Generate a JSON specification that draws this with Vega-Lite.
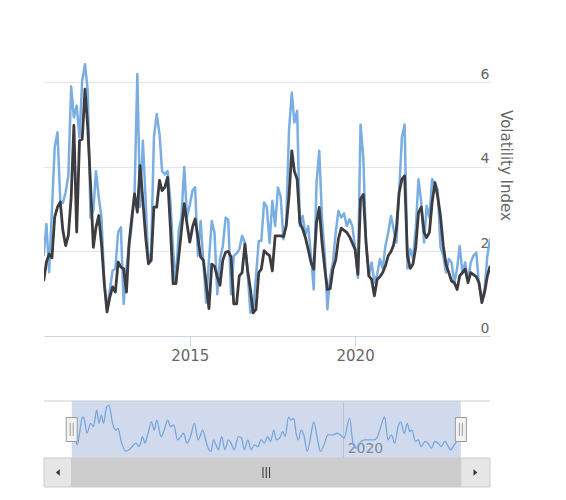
{
  "$schema": "https://vega.github.io/schema/vega-lite/v6.json",
  "background": "white",
  "padding": {"left": 43, "top": 57, "right": 30, "bottom": 0},
  "config": {"view": {"stroke": null}, "font": "DejaVu Sans"},
  "bounds": "flush",
  "spacing": 65,
  "datasets": {
    "monthly": [
      {"date":"2010-08-01","index":1.9,"average":1.3},
      {"date":"2010-09-01","index":2.65,"average":1.75},
      {"date":"2010-10-01","index":1.51,"average":1.94},
      {"date":"2010-11-01","index":3.0,"average":1.85},
      {"date":"2010-12-01","index":4.46,"average":2.81},
      {"date":"2011-01-01","index":4.82,"average":3.05},
      {"date":"2011-02-01","index":3.2,"average":3.17},
      {"date":"2011-03-01","index":3.15,"average":2.5},
      {"date":"2011-04-01","index":3.4,"average":2.14},
      {"date":"2011-05-01","index":3.8,"average":2.38},
      {"date":"2011-06-01","index":5.9,"average":3.28},
      {"date":"2011-07-01","index":5.17,"average":4.98},
      {"date":"2011-08-01","index":5.45,"average":2.46},
      {"date":"2011-09-01","index":4.7,"average":4.62},
      {"date":"2011-10-01","index":6.04,"average":4.66},
      {"date":"2011-11-01","index":6.43,"average":5.84},
      {"date":"2011-12-01","index":5.8,"average":4.94},
      {"date":"2012-01-01","index":2.8,"average":3.6},
      {"date":"2012-02-01","index":2.96,"average":2.1},
      {"date":"2012-03-01","index":3.9,"average":2.57},
      {"date":"2012-04-01","index":3.28,"average":2.85},
      {"date":"2012-05-01","index":2.81,"average":2.18},
      {"date":"2012-06-01","index":1.24,"average":1.24},
      {"date":"2012-07-01","index":0.65,"average":0.57},
      {"date":"2012-08-01","index":1.08,"average":0.92},
      {"date":"2012-09-01","index":1.55,"average":1.16},
      {"date":"2012-10-01","index":1.59,"average":1.04},
      {"date":"2012-11-01","index":2.46,"average":1.75},
      {"date":"2012-12-01","index":2.57,"average":1.63},
      {"date":"2013-01-01","index":0.76,"average":1.59},
      {"date":"2013-02-01","index":1.62,"average":1.04},
      {"date":"2013-03-01","index":2.1,"average":2.18},
      {"date":"2013-04-01","index":2.65,"average":2.8},
      {"date":"2013-05-01","index":3.36,"average":3.36},
      {"date":"2013-06-01","index":6.2,"average":2.93},
      {"date":"2013-07-01","index":3.05,"average":4.03},
      {"date":"2013-08-01","index":4.62,"average":3.2},
      {"date":"2013-09-01","index":3.2,"average":2.34},
      {"date":"2013-10-01","index":1.7,"average":1.71},
      {"date":"2013-11-01","index":2.02,"average":1.79},
      {"date":"2013-12-01","index":4.7,"average":3.05},
      {"date":"2014-01-01","index":5.25,"average":3.05},
      {"date":"2014-02-01","index":4.78,"average":3.68},
      {"date":"2014-03-01","index":3.9,"average":3.44},
      {"date":"2014-04-01","index":3.82,"average":3.52},
      {"date":"2014-05-01","index":3.9,"average":3.76},
      {"date":"2014-06-01","index":3.2,"average":2.57},
      {"date":"2014-07-01","index":2.02,"average":1.24},
      {"date":"2014-08-01","index":1.24,"average":1.24},
      {"date":"2014-09-01","index":2.5,"average":1.87},
      {"date":"2014-10-01","index":2.81,"average":2.5},
      {"date":"2014-11-01","index":4.0,"average":3.13},
      {"date":"2014-12-01","index":2.81,"average":2.66},
      {"date":"2015-01-01","index":3.1,"average":2.22},
      {"date":"2015-02-01","index":3.44,"average":2.58},
      {"date":"2015-03-01","index":3.52,"average":2.77},
      {"date":"2015-04-01","index":1.9,"average":2.33},
      {"date":"2015-05-01","index":2.72,"average":1.87},
      {"date":"2015-06-01","index":1.74,"average":1.79},
      {"date":"2015-07-01","index":0.79,"average":1.24},
      {"date":"2015-08-01","index":1.8,"average":0.65},
      {"date":"2015-09-01","index":2.72,"average":1.7},
      {"date":"2015-10-01","index":2.45,"average":1.65},
      {"date":"2015-11-01","index":0.99,"average":1.4},
      {"date":"2015-12-01","index":1.82,"average":1.2},
      {"date":"2016-01-01","index":2.13,"average":1.8},
      {"date":"2016-02-01","index":2.8,"average":1.98},
      {"date":"2016-03-01","index":2.75,"average":2.0},
      {"date":"2016-04-01","index":0.99,"average":1.87},
      {"date":"2016-05-01","index":1.9,"average":0.76},
      {"date":"2016-06-01","index":1.95,"average":0.76},
      {"date":"2016-07-01","index":2.05,"average":1.42},
      {"date":"2016-08-01","index":2.37,"average":1.5},
      {"date":"2016-09-01","index":2.2,"average":2.17},
      {"date":"2016-10-01","index":1.5,"average":1.55},
      {"date":"2016-11-01","index":0.55,"average":1.1},
      {"date":"2016-12-01","index":0.63,"average":0.55},
      {"date":"2017-01-01","index":1.4,"average":0.63},
      {"date":"2017-02-01","index":2.25,"average":1.5},
      {"date":"2017-03-01","index":2.25,"average":1.58},
      {"date":"2017-04-01","index":3.16,"average":2.02},
      {"date":"2017-05-01","index":3.05,"average":1.95},
      {"date":"2017-06-01","index":2.2,"average":1.9},
      {"date":"2017-07-01","index":3.2,"average":1.54},
      {"date":"2017-08-01","index":2.6,"average":2.37},
      {"date":"2017-09-01","index":3.51,"average":2.37},
      {"date":"2017-10-01","index":3.3,"average":2.37},
      {"date":"2017-11-01","index":2.29,"average":2.35},
      {"date":"2017-12-01","index":2.65,"average":2.6},
      {"date":"2018-01-01","index":4.86,"average":3.31},
      {"date":"2018-02-01","index":5.76,"average":4.38},
      {"date":"2018-03-01","index":5.05,"average":3.9},
      {"date":"2018-04-01","index":5.33,"average":3.71},
      {"date":"2018-05-01","index":2.6,"average":2.68},
      {"date":"2018-06-01","index":2.84,"average":2.53},
      {"date":"2018-07-01","index":2.4,"average":2.33},
      {"date":"2018-08-01","index":2.6,"average":2.05},
      {"date":"2018-09-01","index":1.9,"average":1.74},
      {"date":"2018-10-01","index":1.1,"average":1.58},
      {"date":"2018-11-01","index":3.63,"average":2.68},
      {"date":"2018-12-01","index":4.38,"average":3.04},
      {"date":"2019-01-01","index":2.76,"average":2.2},
      {"date":"2019-02-01","index":1.9,"average":1.58},
      {"date":"2019-03-01","index":0.63,"average":1.1},
      {"date":"2019-04-01","index":1.42,"average":1.12},
      {"date":"2019-05-01","index":1.74,"average":1.58},
      {"date":"2019-06-01","index":2.45,"average":1.8},
      {"date":"2019-07-01","index":2.96,"average":2.3},
      {"date":"2019-08-01","index":2.8,"average":2.55},
      {"date":"2019-09-01","index":2.9,"average":2.5},
      {"date":"2019-10-01","index":2.6,"average":2.45},
      {"date":"2019-11-01","index":2.76,"average":2.35},
      {"date":"2019-12-01","index":2.6,"average":2.2},
      {"date":"2020-01-01","index":2.1,"average":2.05},
      {"date":"2020-02-01","index":1.38,"average":1.46},
      {"date":"2020-03-01","index":5.0,"average":3.24},
      {"date":"2020-04-01","index":4.2,"average":3.35},
      {"date":"2020-05-01","index":2.2,"average":2.21},
      {"date":"2020-06-01","index":1.42,"average":1.42},
      {"date":"2020-07-01","index":1.74,"average":1.34},
      {"date":"2020-08-01","index":1.26,"average":0.95},
      {"date":"2020-09-01","index":1.46,"average":1.34},
      {"date":"2020-10-01","index":1.82,"average":1.4},
      {"date":"2020-11-01","index":1.6,"average":1.5},
      {"date":"2020-12-01","index":2.13,"average":1.66},
      {"date":"2021-01-01","index":2.45,"average":1.9},
      {"date":"2021-02-01","index":2.84,"average":2.0},
      {"date":"2021-03-01","index":2.53,"average":2.15},
      {"date":"2021-04-01","index":2.21,"average":2.53},
      {"date":"2021-05-01","index":3.4,"average":3.39},
      {"date":"2021-06-01","index":4.7,"average":3.71},
      {"date":"2021-07-01","index":5.0,"average":3.79},
      {"date":"2021-08-01","index":1.6,"average":1.9},
      {"date":"2021-09-01","index":2.05,"average":1.6},
      {"date":"2021-10-01","index":1.85,"average":1.7},
      {"date":"2021-11-01","index":2.53,"average":2.1},
      {"date":"2021-12-01","index":3.71,"average":2.92},
      {"date":"2022-01-01","index":3.16,"average":3.05},
      {"date":"2022-02-01","index":2.21,"average":2.45},
      {"date":"2022-03-01","index":3.08,"average":2.33},
      {"date":"2022-04-01","index":2.8,"average":2.45},
      {"date":"2022-05-01","index":3.71,"average":3.16},
      {"date":"2022-06-01","index":3.6,"average":3.63},
      {"date":"2022-07-01","index":3.47,"average":3.3},
      {"date":"2022-08-01","index":2.1,"average":2.84},
      {"date":"2022-09-01","index":1.9,"average":2.13},
      {"date":"2022-10-01","index":1.5,"average":1.7},
      {"date":"2022-11-01","index":1.82,"average":1.5},
      {"date":"2022-12-01","index":1.74,"average":1.3},
      {"date":"2023-01-01","index":1.26,"average":1.26},
      {"date":"2023-02-01","index":1.6,"average":1.1},
      {"date":"2023-03-01","index":2.13,"average":1.42},
      {"date":"2023-04-01","index":1.5,"average":1.5},
      {"date":"2023-05-01","index":1.74,"average":1.58},
      {"date":"2023-06-01","index":1.3,"average":1.26},
      {"date":"2023-07-01","index":1.74,"average":1.5},
      {"date":"2023-08-01","index":1.9,"average":1.45},
      {"date":"2023-09-01","index":1.97,"average":1.4},
      {"date":"2023-10-01","index":1.2,"average":1.26},
      {"date":"2023-11-01","index":0.87,"average":0.79},
      {"date":"2023-12-01","index":1.1,"average":1.03},
      {"date":"2024-01-01","index":1.9,"average":1.42},
      {"date":"2024-02-01","index":2.3,"average":1.66}
    ],
    "navigator": [
      {"date":"2010-09-24","value":2.07},
      {"date":"2010-10-15","value":1.5},
      {"date":"2010-11-18","value":3.19},
      {"date":"2010-12-18","value":4.7},
      {"date":"2011-01-09","value":4.51},
      {"date":"2011-02-12","value":2.82},
      {"date":"2011-04-03","value":3.95},
      {"date":"2011-05-06","value":3.57},
      {"date":"2011-06-17","value":5.45},
      {"date":"2011-07-16","value":3.95},
      {"date":"2011-08-15","value":4.89},
      {"date":"2011-09-11","value":3.95},
      {"date":"2011-10-21","value":5.83},
      {"date":"2011-11-21","value":6.01},
      {"date":"2012-01-04","value":3.95},
      {"date":"2012-02-14","value":3.19},
      {"date":"2012-03-14","value":3.38},
      {"date":"2012-04-17","value":2.07},
      {"date":"2012-06-19","value":0.75},
      {"date":"2012-08-21","value":1.12},
      {"date":"2012-10-24","value":1.69},
      {"date":"2012-12-07","value":1.31},
      {"date":"2013-01-18","value":2.44},
      {"date":"2013-02-17","value":1.69},
      {"date":"2013-03-28","value":2.82},
      {"date":"2013-05-11","value":4.13},
      {"date":"2013-06-14","value":3.19},
      {"date":"2013-07-17","value":4.32},
      {"date":"2013-09-08","value":2.44},
      {"date":"2013-10-19","value":3.19},
      {"date":"2013-12-02","value":4.32},
      {"date":"2014-01-05","value":3.57},
      {"date":"2014-02-16","value":3.76},
      {"date":"2014-04-06","value":2.07},
      {"date":"2014-05-17","value":2.44},
      {"date":"2014-06-20","value":2.82},
      {"date":"2014-08-03","value":1.69},
      {"date":"2014-09-22","value":2.63},
      {"date":"2014-11-05","value":3.95},
      {"date":"2014-12-23","value":2.07},
      {"date":"2015-02-18","value":3.19},
      {"date":"2015-03-17","value":2.44},
      {"date":"2015-04-20","value":1.31},
      {"date":"2015-06-03","value":0.75},
      {"date":"2015-07-06","value":2.07},
      {"date":"2015-08-05","value":1.5},
      {"date":"2015-09-05","value":0.94},
      {"date":"2015-10-16","value":2.44},
      {"date":"2015-11-26","value":0.94},
      {"date":"2016-01-09","value":2.07},
      {"date":"2016-02-12","value":1.69},
      {"date":"2016-03-23","value":0.94},
      {"date":"2016-05-14","value":2.44},
      {"date":"2016-06-25","value":2.25},
      {"date":"2016-07-28","value":0.94},
      {"date":"2016-09-11","value":2.07},
      {"date":"2016-10-22","value":0.94},
      {"date":"2016-12-05","value":1.5},
      {"date":"2017-01-16","value":1.31},
      {"date":"2017-02-27","value":2.07},
      {"date":"2017-04-10","value":1.69},
      {"date":"2017-05-21","value":2.44},
      {"date":"2017-06-24","value":1.88},
      {"date":"2017-08-07","value":3.19},
      {"date":"2017-09-06","value":2.07},
      {"date":"2017-10-17","value":2.25},
      {"date":"2017-11-28","value":3.01},
      {"date":"2017-12-27","value":2.44},
      {"date":"2018-02-10","value":4.7},
      {"date":"2018-03-13","value":4.32},
      {"date":"2018-04-16","value":4.51},
      {"date":"2018-05-15","value":2.82},
      {"date":"2018-06-14","value":2.07},
      {"date":"2018-07-18","value":3.19},
      {"date":"2018-08-21","value":2.63},
      {"date":"2018-10-04","value":0.75},
      {"date":"2018-11-22","value":2.82},
      {"date":"2018-12-25","value":4.13},
      {"date":"2019-02-08","value":2.25},
      {"date":"2019-03-19","value":0.75},
      {"date":"2019-05-10","value":1.69},
      {"date":"2019-06-21","value":2.63},
      {"date":"2019-08-23","value":2.63},
      {"date":"2019-10-18","value":2.82},
      {"date":"2019-11-29","value":2.63},
      {"date":"2020-01-12","value":2.25},
      {"date":"2020-03-22","value":4.51},
      {"date":"2020-05-05","value":1.69},
      {"date":"2020-06-16","value":1.12},
      {"date":"2020-07-26","value":1.69},
      {"date":"2020-09-29","value":2.07},
      {"date":"2020-11-19","value":2.07},
      {"date":"2021-01-14","value":2.07},
      {"date":"2021-02-25","value":2.2},
      {"date":"2021-04-08","value":3.19},
      {"date":"2021-06-10","value":4.7},
      {"date":"2021-07-21","value":2.07},
      {"date":"2021-09-04","value":2.63},
      {"date":"2021-10-15","value":1.69},
      {"date":"2021-11-26","value":3.57},
      {"date":"2021-12-29","value":4.13},
      {"date":"2022-02-12","value":2.82},
      {"date":"2022-03-23","value":3.95},
      {"date":"2022-04-22","value":3.01},
      {"date":"2022-05-21","value":3.19},
      {"date":"2022-07-04","value":1.88},
      {"date":"2022-08-07","value":2.07},
      {"date":"2022-09-18","value":1.31},
      {"date":"2022-11-01","value":1.88},
      {"date":"2022-12-12","value":1.69},
      {"date":"2023-01-23","value":1.12},
      {"date":"2023-03-06","value":1.88},
      {"date":"2023-04-17","value":1.69},
      {"date":"2023-05-27","value":1.31},
      {"date":"2023-07-10","value":1.88},
      {"date":"2023-09-24","value":0.94},
      {"date":"2023-11-07","value":1.5},
      {"date":"2023-12-26","value":2.07}
    ]
  },
  "vconcat": [
    {
      "width": 446,
      "height": 279,
      "data": {"name": "monthly"},
      "layer": [
        {
          "mark": {"type": "line", "color": "#7aaee3", "strokeWidth": 2.5, "strokeJoin": "round", "clip": true},
          "encoding": {
            "x": {
              "field": "date", "type": "temporal",
              "scale": {"type": "utc", "domain": [{"year": 2010, "month": 8, "date": 5, "utc": true}, {"year": 2024, "month": 1, "date": 30, "utc": true}]},
              "axis": {
                "values": [{"year": 2015, "month": 1, "date": 1, "utc": true}, {"year": 2020, "month": 1, "date": 1, "utc": true}],
                "format": "%Y", "title": null, "grid": false,
                "domainColor": "#ccd6eb", "tickColor": "#ccd6eb", "tickSize": 10,
                "labelFontSize": 15, "labelColor": "#666666", "labelFont": "DejaVu Sans",
                "labelPadding": 2, "labelFlush": false
              }
            },
            "y": {
              "field": "index", "type": "quantitative",
              "scale": {"domain": [0, 6.6], "nice": false, "zero": true},
              "axis": {
                "values": [0, 2, 4, 6], "title": "Volatility Index", "orient": "right",
                "grid": true, "gridColor": "#e6e6e6", "domain": false, "ticks": false, "tickSize": 0,
                "labelAlign": "right", "labelBaseline": "alphabetic", "labelPadding": -1, "labelOffset": -4,
                "labelFontSize": 14, "labelColor": "#666666", "labelFont": "DejaVu Sans",
                "titleFont": "DejaVu Sans", "titleFontSize": 15, "titleFontWeight": "normal", "titleColor": "#666666",
                "titleAngle": 90, "titleX": 15, "titleY": 108, "titleAlign": "center", "titleBaseline": "middle"
              }
            }
          }
        },
        {
          "mark": {"type": "line", "color": "#3c3c41", "strokeWidth": 2.8, "strokeJoin": "round", "clip": true},
          "encoding": {
            "x": {"field": "date", "type": "temporal"},
            "y": {"field": "average", "type": "quantitative"}
          }
        }
      ]
    },
    {
      "vconcat": [
        {
          "width": 446,
          "height": 57,
          "layer": [
            {
              "data": {"name": "navigator"},
              "mark": {"type": "line", "color": "#7cb5ec", "strokeWidth": 1.3, "interpolate": "monotone"},
              "encoding": {
                "x": {
                  "field": "date", "type": "temporal",
                  "scale": {"type": "utc", "domain": [{"year": 2009, "month": 8, "date": 19, "utc": true}, {"year": 2025, "month": 2, "date": 2, "utc": true}]},
                  "axis": {
                    "values": [{"year": 2020, "month": 1, "date": 1, "utc": true}],
                    "format": "%Y", "title": null, "grid": true, "gridColor": "#e0e0e0",
                    "domain": false, "ticks": false, "tickSize": 0,
                    "labelAlign": "left", "labelBaseline": "alphabetic", "labelPadding": -6, "labelOffset": 4,
                    "labelFontSize": 14, "labelColor": "#8a8a8a", "labelFont": "DejaVu Sans", "labelFlush": false
                  }
                },
                "y": {"field": "value", "type": "quantitative", "scale": {"domain": [0, 6.5], "nice": false}, "axis": null}
              }
            },
            {
              "data": {"values": [{}]},
              "mark": {"type": "rect", "fill": "#6685c2", "opacity": 0.3},
              "encoding": {
                "x": {"datum": {"year": 2010, "month": 8, "date": 5, "utc": true}, "type": "temporal"},
                "x2": {"datum": {"year": 2024, "month": 1, "date": 30, "utc": true}}
              }
            },
            {
              "data": {"values": [{}]},
              "mark": {"type": "rule", "color": "#cccccc", "strokeWidth": 1},
              "encoding": {"y": {"datum": 6.5, "type": "quantitative"}}
            },
            {
              "data": {"values": [{}]},
              "mark": {"type": "point", "shape": "M-0.92,-2H0.92V2H-0.92Z M-0.25,-1.1V1.1 M0.25,-1.1V1.1", "size": 144, "filled": true, "fill": "#f2f2f2", "stroke": "#999999", "strokeWidth": 1, "opacity": 1},
              "encoding": {
                "x": {"datum": {"year": 2010, "month": 8, "date": 5, "utc": true}, "type": "temporal"},
                "y": {"datum": 3.25, "type": "quantitative"}
              }
            },
            {
              "data": {"values": [{}]},
              "mark": {"type": "point", "shape": "M-0.92,-2H0.92V2H-0.92Z M-0.25,-1.1V1.1 M0.25,-1.1V1.1", "size": 144, "filled": true, "fill": "#f2f2f2", "stroke": "#999999", "strokeWidth": 1, "opacity": 1},
              "encoding": {
                "x": {"datum": {"year": 2024, "month": 1, "date": 30, "utc": true}, "type": "temporal"},
                "y": {"datum": 3.25, "type": "quantitative"}
              }
            }
          ]
        },
        {
          "width": 446,
          "height": 29,
          "data": {"values": [{}]},
          "layer": [
            {
              "mark": {"type": "rect", "fill": "#e6e6e6", "stroke": "#cccccc", "strokeWidth": 1},
              "encoding": {
                "x": {"datum": {"year": 2009, "month": 8, "date": 19, "utc": true}, "type": "temporal",
                      "scale": {"type": "utc", "domain": [{"year": 2009, "month": 8, "date": 19, "utc": true}, {"year": 2025, "month": 2, "date": 2, "utc": true}]},
                      "axis": null},
                "x2": {"datum": {"year": 2010, "month": 8, "date": 5, "utc": true}}
              }
            },
            {
              "mark": {"type": "rect", "fill": "#cccccc", "stroke": "#cccccc", "strokeWidth": 1},
              "encoding": {
                "x": {"datum": {"year": 2010, "month": 8, "date": 5, "utc": true}, "type": "temporal"},
                "x2": {"datum": {"year": 2024, "month": 1, "date": 30, "utc": true}}
              }
            },
            {
              "mark": {"type": "rect", "fill": "#e6e6e6", "stroke": "#cccccc", "strokeWidth": 1},
              "encoding": {
                "x": {"datum": {"year": 2024, "month": 1, "date": 30, "utc": true}, "type": "temporal"},
                "x2": {"datum": {"year": 2025, "month": 2, "date": 2, "utc": true}}
              }
            },
            {
              "mark": {"type": "point", "shape": "M0.6,-1L-0.6,0L0.6,1Z", "size": 40, "filled": true, "fill": "#333333", "strokeWidth": 0, "opacity": 1},
              "encoding": {"x": {"datum": {"year": 2010, "month": 2, "date": 10, "utc": true}, "type": "temporal"}}
            },
            {
              "mark": {"type": "point", "shape": "M-0.6,-1L0.6,0L-0.6,1Z", "size": 40, "filled": true, "fill": "#333333", "strokeWidth": 0, "opacity": 1},
              "encoding": {"x": {"datum": {"year": 2024, "month": 8, "date": 1, "utc": true}, "type": "temporal"}}
            },
            {
              "mark": {"type": "point", "shape": "M-0.6,-1V1M0,-1V1M0.6,-1V1", "size": 121, "filled": false, "stroke": "#333333", "strokeWidth": 1, "opacity": 1},
              "encoding": {"x": {"datum": {"year": 2017, "month": 5, "date": 3, "utc": true}, "type": "temporal"}}
            }
          ]
        }
      ],
      "spacing": 0,
      "bounds": "flush"
    }
  ]
}
